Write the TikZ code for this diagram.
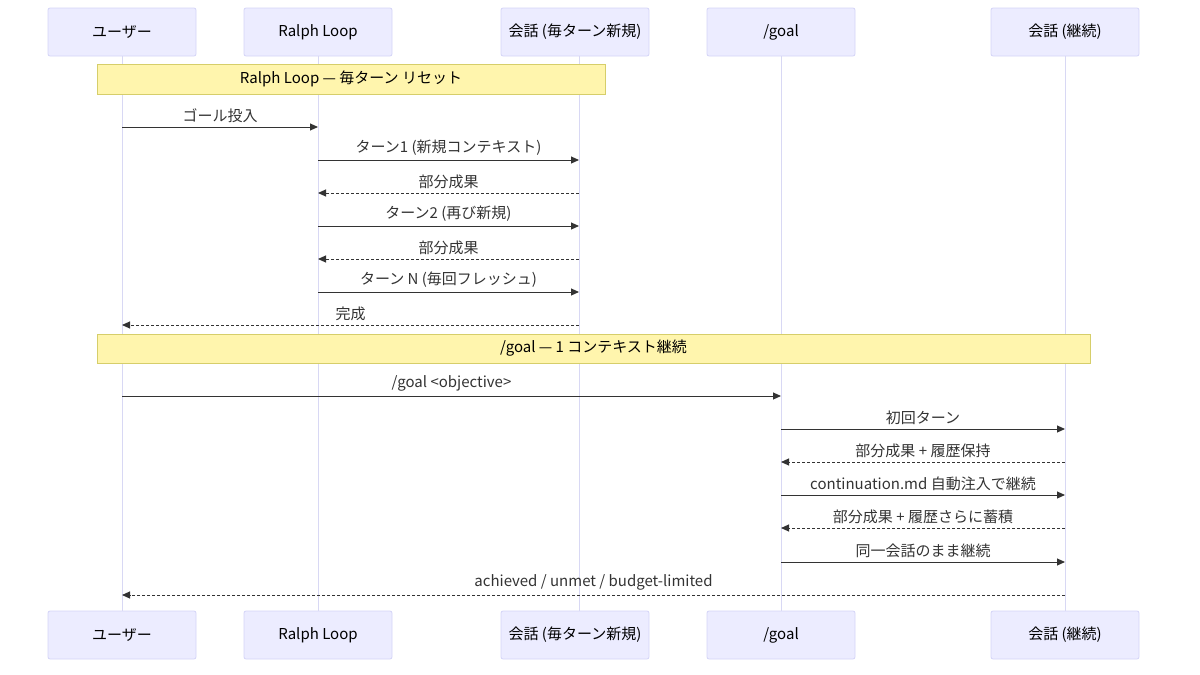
\documentclass[tikz,border=0pt]{standalone}
\usepackage{fontspec}
\setmainfont{Noto Sans CJK JP}
\usetikzlibrary{arrows.meta}
\definecolor{actfill}{HTML}{ECECFF}
\definecolor{actline}{HTML}{D4D4F7}
\definecolor{lifeline}{HTML}{D8D8F4}
\definecolor{notefill}{HTML}{FFF5AD}
\definecolor{noteline}{HTML}{D6CE6A}
\definecolor{msg}{HTML}{333333}
\tikzset{
  actor/.style={draw=actline, fill=actfill, rounded corners=2pt, minimum width=148pt, minimum height=48pt, inner sep=0pt, font=\fontsize{15}{17}\selectfont, text=black, line width=0.8pt},
  life/.style={draw=lifeline, line width=1pt},
  notebox/.style={draw=noteline, fill=notefill, line width=0.8pt, inner sep=0pt, font=\fontsize{15}{17}\selectfont},
  sync/.style={draw=msg, line width=1pt, -{Triangle[length=8pt,width=7pt]}},
  reply/.style={draw=msg, line width=1pt, dash pattern=on 3pt off 2pt, -{Triangle[length=8pt,width=7pt]}},
  lbl/.style={font=\fontsize{15}{17}\selectfont, text=msg, inner sep=0pt, above=4pt}
}
\begin{document}
\begin{tikzpicture}[x=1pt,y=-1pt]
\useasboundingbox (0,0) rectangle (1200,675);
% actors top
\node[actor] (uT) at (122,32) {ユーザー};
\node[actor] (rT) at (318,32) {Ralph Loop};
\node[actor] (cT) at (575,32) {会話 (毎ターン新規)};
\node[actor] (gT) at (781,32) {/goal};
\node[actor] (kT) at (1065,32) {会話 (継続)};
% actors bottom
\node[actor] (uB) at (122,635) {ユーザー};
\node[actor] (rB) at (318,635) {Ralph Loop};
\node[actor] (cB) at (575,635) {会話 (毎ターン新規)};
\node[actor] (gB) at (781,635) {/goal};
\node[actor] (kB) at (1065,635) {会話 (継続)};
% lifelines
\coordinate (uL) at (122,0); \coordinate (rL) at (318,0); \coordinate (cL) at (579,0);
\coordinate (gL) at (781,0); \coordinate (kL) at (1065,0);
\draw[life] (uT.south) -- (uB.north);
\draw[life] (rT.south) -- (rB.north);
\draw[life] (cL |- cT.south) -- (cL |- cB.north);
\draw[life] (gT.south) -- (gB.north);
\draw[life] (kT.south) -- (kB.north);
% notes
\node[notebox, minimum width=508pt, minimum height=30pt] (n1) at (351,79) {Ralph Loop — 毎ターン リセット};
\node[notebox, minimum width=993pt, minimum height=29pt] (n2) at (593.5,348.5) {/goal — 1 コンテキスト継続};
% message end coordinates
\foreach \n/\y in {1/127,2/160,3/193,4/226,5/259,6/292,7/325,8/396,9/429,10/462,11/495,12/528,13/562,14/595}{
  \coordinate (u\n) at (uL |- 0,\y);
  \coordinate (r\n) at (rL |- 0,\y);
  \coordinate (c\n) at (cL |- 0,\y);
  \coordinate (g\n) at (gL |- 0,\y);
  \coordinate (k\n) at (kL |- 0,\y);
}
\draw[sync] (u1) -- node[lbl] (m1) {ゴール投入} (r1);
\draw[sync] (r2) -- node[lbl] (m2) {ターン1 (新規コンテキスト)} (c2);
\draw[reply] (c3) -- node[lbl] (m3) {部分成果} (r3);
\draw[sync] (r4) -- node[lbl] (m4) {ターン2 (再び新規)} (c4);
\draw[reply] (c5) -- node[lbl] (m5) {部分成果} (r5);
\draw[sync] (r6) -- node[lbl] (m6) {ターン N (毎回フレッシュ)} (c6);
\draw[reply] (c7) -- node[lbl] (m7) {完成} (u7);
\draw[sync] (u8) -- node[lbl] (m8) {/goal <objective>} (g8);
\draw[sync] (g9) -- node[lbl] (m9) {初回ターン} (k9);
\draw[reply] (k10) -- node[lbl] (m10) {部分成果 + 履歴保持} (g10);
\draw[sync] (g11) -- node[lbl] (m11) {continuation.md 自動注入で継続} (k11);
\draw[reply] (k12) -- node[lbl] (m12) {部分成果 + 履歴さらに蓄積} (g12);
\draw[sync] (g13) -- node[lbl] (m13) {同一会話のまま継続} (k13);
\draw[reply] (k14) -- node[lbl] (m14) {achieved / unmet / budget-limited} (u14);
\end{tikzpicture}
\end{document}
